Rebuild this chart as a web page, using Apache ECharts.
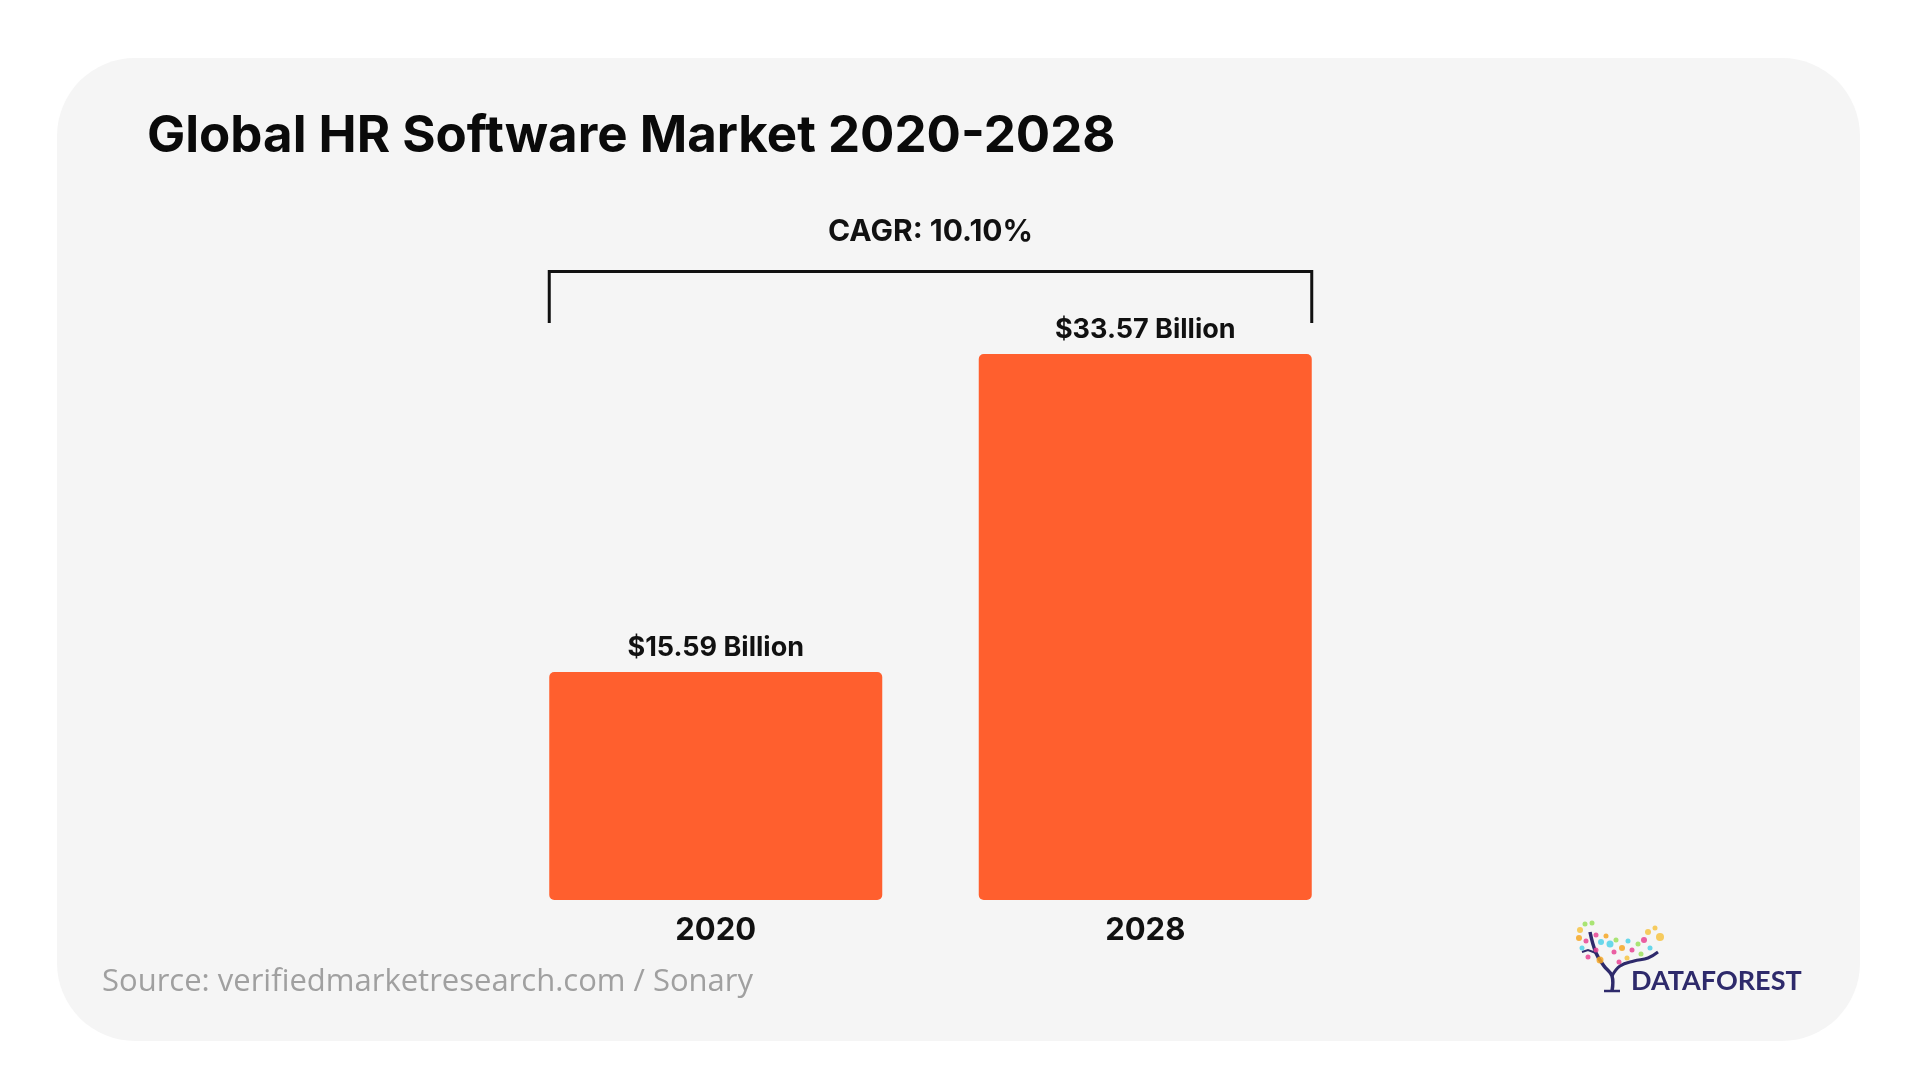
<!DOCTYPE html>
<html>
<head>
<meta charset="utf-8">
<title>Global HR Software Market 2020-2028</title>
<script src="https://cdn.jsdelivr.net/npm/echarts@6/dist/echarts.min.js"></script>
<style>
  html, body { margin: 0; padding: 0; background: #ffffff; }
  #main { width: 1918px; height: 1092px; }
</style>
</head>
<body>
<div id="main"></div>
<script>
(function() {

    // data
    var years = ['2020', '2028'];
    var marketSize = [15.59, 33.57];
    var valueLabels = ['$15.59 Billion', '$33.57 Billion'];
    var cagrText = 'CAGR: 10.10%';
    var titleText = 'Global HR Software Market 2020-2028';
    var sourceText = 'Source: verifiedmarketresearch.com / Sonary';

    var BAR_W = 333;
    var FONT = 'Inter, "Noto Sans", sans-serif';

    // logo decoration dots: x, y, r, color
    var logoDots = [
        [1580, 930, 3, '#f6c343'], [1585, 924, 2.5, '#9be15d'], [1592, 923, 2.5, '#9be15d'],
        [1579, 938, 3, '#f5a623'], [1586, 941, 2.5, '#e84393'], [1582, 948, 2.5, '#4fd1e8'],
        [1596, 935, 2.5, '#e84393'], [1601, 942, 3, '#4fd1e8'], [1606, 936, 2.5, '#f5a623'],
        [1596, 950, 2.5, '#e84393'], [1588, 957, 2.5, '#e84393'], [1600, 960, 3.5, '#f5a623'],
        [1610, 944, 3.5, '#4fd1e8'], [1616, 940, 2.5, '#9be15d'], [1614, 952, 2.5, '#e84393'],
        [1622, 948, 3, '#f5a623'], [1628, 941, 2.5, '#4fd1e8'], [1632, 950, 2.5, '#e84393'],
        [1638, 944, 2.5, '#9be15d'], [1644, 940, 3, '#e84393'], [1648, 932, 3, '#f6c343'],
        [1655, 928, 2.5, '#f6c343'], [1660, 937, 4, '#f6c343'], [1650, 948, 2.5, '#4fd1e8'],
        [1641, 954, 2.5, '#9be15d'], [1627, 958, 2.5, '#f6c343'], [1619, 962, 2.5, '#e84393']
    ];

    var chart = echarts.init(document.getElementById('main'));

    var option = {
        backgroundColor: '#ffffff',
        animation: false,
        grid: { left: 501, right: 558, top: 354, bottom: 192 },
        xAxis: {
            type: 'category',
            data: years,
            axisLine: { show: false },
            axisTick: { show: false },
            axisLabel: {
                margin: 15,
                color: '#111111',
                fontSize: 31,
                fontWeight: 700,
                fontFamily: FONT
            }
        },
        yAxis: {
            type: 'value',
            min: 2.7,
            max: 33.57,
            show: false,
            splitLine: { show: false }
        },
        series: [{
            type: 'bar',
            data: marketSize,
            barWidth: BAR_W,
            z: 5,
            itemStyle: { color: '#ff5f2e', borderRadius: 5 },
            label: {
                show: true,
                position: 'top',
                distance: 11,
                color: '#111111',
                fontSize: 27,
                fontWeight: 700,
                fontFamily: FONT,
                formatter: function(p) {
                    return valueLabels[p.dataIndex];
                }
            }
        }]
    };
    chart.setOption(option);

    // bracket sits over the two bars
    var x0 = chart.convertToPixel({ xAxisIndex: 0 }, years[0]) - BAR_W / 2;
    var x1 = chart.convertToPixel({ xAxisIndex: 0 }, years[1]) + BAR_W / 2;

    var elements = [
        {
            type: 'rect',
            z: -10,
            shape: { x: 57, y: 58, width: 1803, height: 983, r: 78 },
            style: { fill: '#f5f5f5' }
        },
        {
            type: 'text',
            left: 147, top: 111,
            style: {
                text: titleText,
                fill: '#0a0a0a',
                font: '700 51px ' + FONT
            }
        },
        {
            type: 'text',
            x: (x0 + x1) / 2, y: 232,
            style: {
                text: cagrText,
                fill: '#111111',
                font: '700 30px ' + FONT,
                align: 'center',
                verticalAlign: 'middle'
            }
        },
        {
            type: 'polyline',
            shape: { points: [[x0, 323], [x0, 271.5], [x1, 271.5], [x1, 323]] },
            style: { stroke: '#111111', lineWidth: 3, fill: null }
        },
        {
            type: 'text',
            x: 102, y: 982,
            style: {
                text: sourceText,
                fill: '#a0a0a0',
                font: '400 31px "Open Sans", sans-serif',
                verticalAlign: 'middle'
            }
        },
        // logo: tree
        {
            type: 'polyline',
            shape: { points: [[1612, 991], [1612, 976], [1604, 966], [1596, 953], [1590, 932]], smooth: 0.4 },
            style: { stroke: '#2e2a6b', lineWidth: 3.5, fill: null }
        },
        {
            type: 'polyline',
            shape: { points: [[1612, 976], [1620, 966], [1634, 961], [1648, 958], [1658, 952]], smooth: 0.4 },
            style: { stroke: '#2e2a6b', lineWidth: 3, fill: null }
        },
        {
            type: 'polyline',
            shape: { points: [[1596, 953], [1588, 950], [1582, 952]] },
            style: { stroke: '#2e2a6b', lineWidth: 2, fill: null }
        },
        {
            type: 'line',
            shape: { x1: 1604, y1: 991, x2: 1620, y2: 991 },
            style: { stroke: '#2e2a6b', lineWidth: 2.5 }
        },
        {
            type: 'text',
            x: 1631, y: 981,
            style: {
                text: 'DATAFOREST',
                fill: '#2e2a6b',
                font: '700 27px Lato, sans-serif',
                verticalAlign: 'middle'
            }
        }
    ];

    for (var i = 0; i < logoDots.length; i++) {
        var d = logoDots[i];
        elements.push({
            type: 'circle',
            shape: { cx: d[0], cy: d[1], r: d[2] },
            style: { fill: d[3], opacity: 0.85 }
        });
    }

    chart.setOption({ graphic: { elements: elements } });

})();
</script>
</body>
</html>
